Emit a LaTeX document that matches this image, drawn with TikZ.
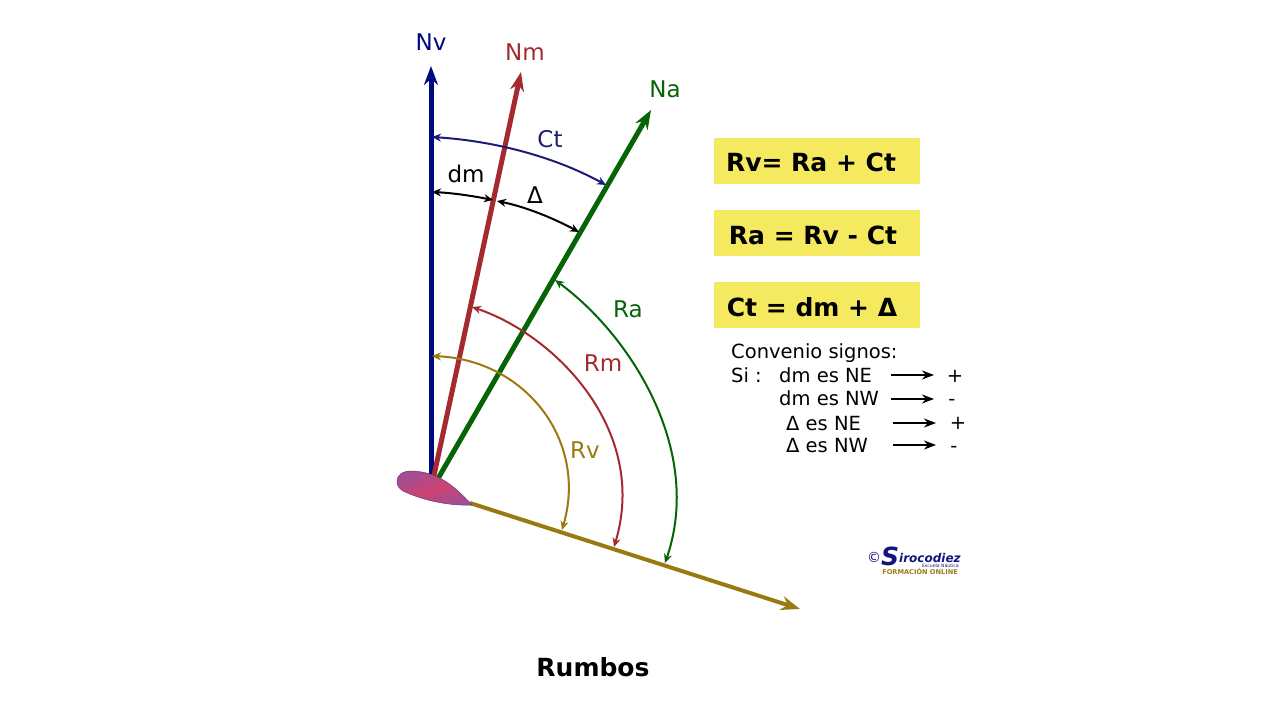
\documentclass[tikz,border=0pt]{standalone}
\usepackage{fontspec}
\setmainfont{DejaVu Sans}
\usetikzlibrary{arrows.meta}
\definecolor{navyv}{HTML}{000A80}
\definecolor{brownm}{HTML}{A52A2F}
\definecolor{greena}{HTML}{066406}
\definecolor{goldr}{HTML}{9A7A10}
\definecolor{navyct}{HTML}{1C1C78}
\definecolor{boxyellow}{HTML}{F5E960}
\definecolor{logoblue}{HTML}{14147E}
\definecolor{hullred}{HTML}{CC4270}
\definecolor{hullpurple}{HTML}{A04F98}
\tikzset{
	label/.style={font=\fontsize{23}{23}\selectfont},
	signs/.style={font=\fontsize{19.5}{19.5}\selectfont, anchor=base west, inner sep=0pt},
	formula/.style={font=\fontsize{25}{25}\selectfont\bfseries},
	formulabox/.style={fill=boxyellow, minimum width=206pt, minimum height=46pt, inner sep=0pt},
	bearing/.style={-{Stealth[length=19pt, width=14pt]}, line width=5pt},
	measure/.style={{Stealth[length=9pt, width=8pt]}-{Stealth[length=9pt, width=8pt]}, line width=2pt},
	sign/.style={-{Stealth[length=12pt, width=9pt]}, line width=2pt},
	logotext/.style={inner sep=0pt, logoblue}
}
\begin{document}
\begin{tikzpicture}[x=1pt, y=-1pt]
		\useasboundingbox (0,0) rectangle (1280,720);
		\coordinate (O) at (431,480);
		\coordinate (Nvtip) at (431,66);
		\coordinate (Nmtip) at (521,72);
		\coordinate (Natip) at (651,110);
		\coordinate (stern) at (470,503);
		\coordinate (Rtip) at (800,609);

		% bearing lines
		\draw[bearing, goldr, line width=4pt] (stern) -- (Rtip);
		\draw[bearing, navyv] (O) -- (Nvtip);
		\draw[bearing, brownm] (433,480) -- (Nmtip);
		\draw[bearing, greena] (436,482) -- (Natip);

		\node[label, navyv] (nv) at (431,42) {Nv};
		\node[label, brownm] (nm) at (525,52) {Nm};
		\node[label, greena] (na) at (665,89) {Na};

		% hull
		\draw[draw=hullpurple!70!black, line width=0.5pt, left color=hullpurple, right color=hullpurple, middle color=hullred, shading angle=20]
			(397,482) .. controls (397,474) and (403,471) .. (412,471)
			.. controls (440,472) and (456,488) .. (472,505)
			.. controls (445,506) and (420,499) .. (403,491)
			.. controls (399,488) and (397,486) .. (397,482) -- cycle;

		% arcs
		\draw[measure, navyct] (432,137) .. controls (495,141) and (555,157) .. (606,185);
		\draw[measure, black] (432,192) .. controls (453,193) and (473,196) .. (493,200);
		\draw[measure, black] (497,201) .. controls (526,207) and (553,218) .. (579,232);
		\draw[measure, goldr] (432,356) .. controls (525,360) and (588,440) .. (562,530);
		\draw[measure, brownm] (472,307) .. controls (555,335) and (649,430) .. (614,547);
		\draw[measure, greena] (555,280) .. controls (630,335) and (704,450) .. (665,563);

		\node[label, navyct] (ct) at (550,139) {Ct};
		\node[label] (dm) at (466,174) {dm};
		\node[label] (delta) at (535,195) {Δ};
		\node[label, greena] (ra) at (628,309) {Ra};
		\node[label, brownm] (rm) at (603,363) {Rm};
		\node[label, goldr] (rv) at (585,450) {Rv};

		% formulas
		\node[formulabox] (box1) at (817,161) {};
		\node[formulabox] (box2) at (817,233) {};
		\node[formulabox] (box3) at (817,305) {};
		\node[formula] (f1) at (811,162) {Rv= Ra + Ct};
		\node[formula] (f2) at (813,235) {Ra = Rv - Ct};
		\node[formula] (f3) at (812,307) {Ct = dm + Δ};

		% sign convention
		\node[signs] (conv) at (731,358) {Convenio signos:};
		\node[signs] (si) at (731,382) {Si :};
		\node[signs] (s1) at (779,382) {dm es NE};
		\node[signs] (s2) at (779,405) {dm es NW};
		\node[signs] (s3) at (786,430) {Δ es NE};
		\node[signs] (s4) at (786,452) {Δ es NW};
		\node[signs, anchor=base] (p1) at (955,382) {+};
		\node[signs, anchor=base] (p2) at (952,405) {-};
		\node[signs, anchor=base] (p3) at (958,429) {+};
		\node[signs, anchor=base] (p4) at (954,452) {-};
		\draw[sign] (891,375) -- (934,375);
		\draw[sign] (891,399) -- (934,399);
		\draw[sign] (893,423) -- (936,423);
		\draw[sign] (893,445) -- (936,445);

		% logo
		\node[logotext, font=\fontsize{14}{14}\selectfont] (copy) at (874,557) {©};
		\node[logotext, font=\fontsize{25}{25}\selectfont\bfseries\itshape] (seahorse) at (890,556) {S};
		\node[logotext, font=\fontsize{12}{12}\selectfont\bfseries\itshape, anchor=base west] (logo) at (899,562) {irocodiez};
		\node[logotext, font=\fontsize{4.6}{4.6}\selectfont, anchor=base east] (school) at (959,567.5) {Escuela Náutica};
		\node[goldr, font=\fontsize{6.6}{6.6}\selectfont\bfseries, anchor=base east, inner sep=0pt] (online) at (958,574.5) {FORMACIÓN ONLINE};

		\node[font=\fontsize{25}{25}\selectfont\bfseries] (title) at (593,667) {Rumbos};
	\end{tikzpicture}
\end{document}
